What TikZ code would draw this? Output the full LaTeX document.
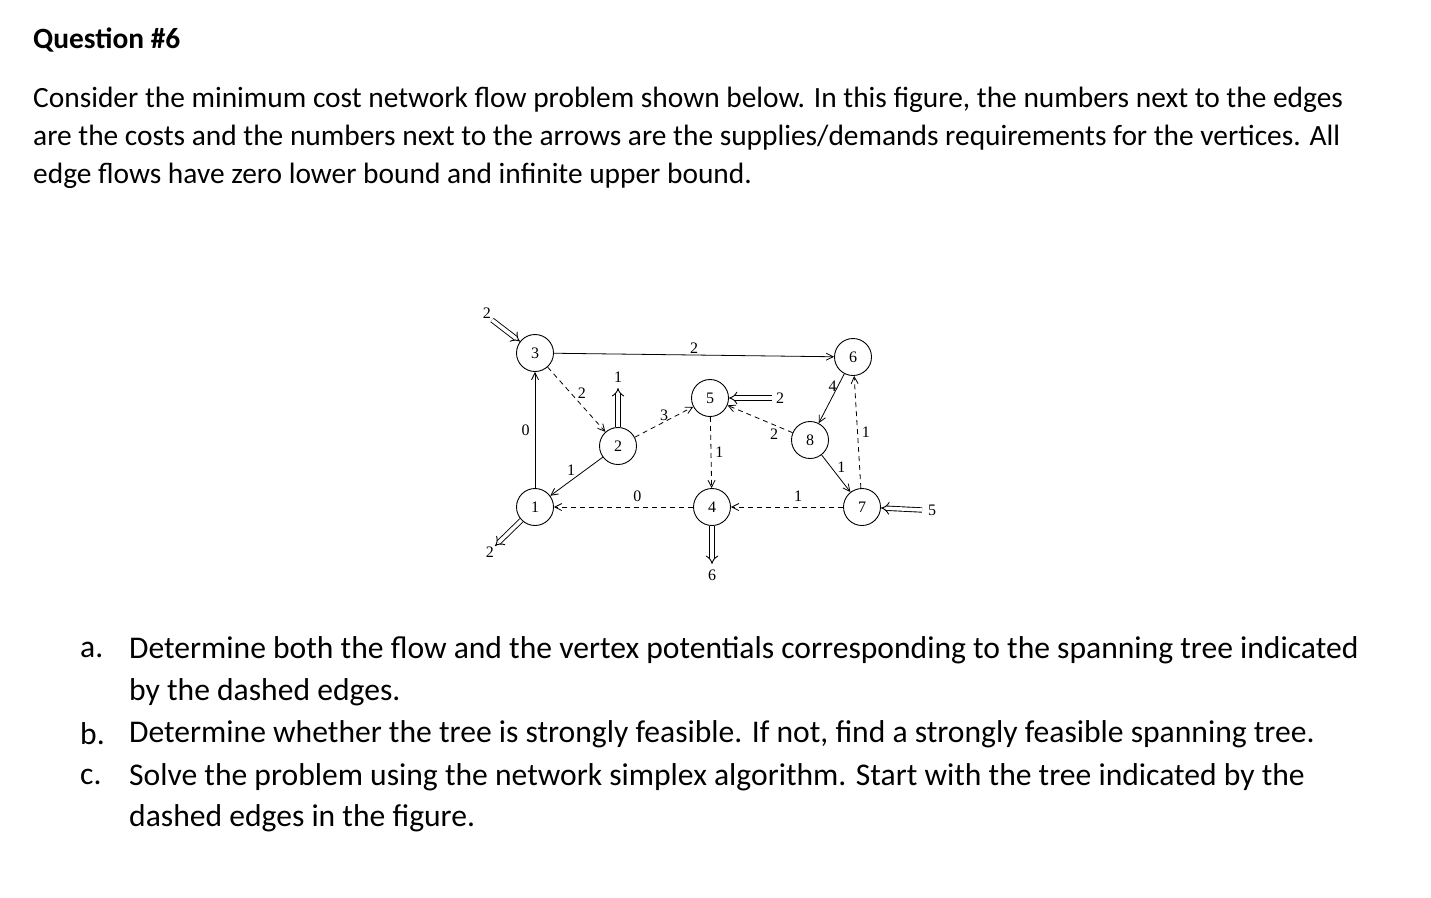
\documentclass[tikz,border=0pt]{standalone}
\usepackage{fontspec}
\setmainfont{Carlito}
\newfontfamily\tnr{Liberation Serif}
\usetikzlibrary{arrows.meta}
\begin{document}
\begin{tikzpicture}[x=1pt,y=-1pt,
  vtx/.style={circle,draw,line width=0.9pt,minimum size=37pt,inner sep=0pt,font=\tnr\fontsize{16}{16}\selectfont},
  lbl/.style={font=\tnr\fontsize{16}{16}\selectfont,inner sep=1pt},
  edg/.style={line width=0.8pt,-{Straight Barb[length=7pt,width=7pt]}},
  tree/.style={edg,dash pattern=on 5pt off 4pt},
  sup/.style={draw=black,double=white,double distance=3.5pt,line width=0.9pt,-{Implies}},
  body/.style={anchor=west,inner sep=0pt,font=\fontsize{29.4}{34}\selectfont},
  item/.style={anchor=west,inner sep=0pt,font=\fontsize{31.6}{36}\selectfont}]
\useasboundingbox (0,0) rectangle (1431,897);
\node[body,font=\bfseries\fontsize{29.4}{34}\selectfont] (t) at (33,40) {Question \#6};
\node[body] (l1) at (33,100) {Consider the minimum cost network flow problem shown below. In this figure, the numbers next to the edges};
\node[body] (l2) at (33,138) {are the costs and the numbers next to the arrows are the supplies/demands requirements for the vertices. All};
\node[body] (l3) at (33,176) {edge flows have zero lower bound and infinite upper bound.};
\node[item] (a1) at (80,650) {a.};
\node[item] (a2) at (129,650) {Determine both the flow and the vertex potentials corresponding to the spanning tree indicated};
\node[item] (a3) at (129,692) {by the dashed edges.};
\node[item] (b1) at (80,734) {b.};
\node[item] (b2) at (129,734) {Determine whether the tree is strongly feasible. If not, find a strongly feasible spanning tree.};
\node[item] (c1) at (80,777) {c.};
\node[item] (c2) at (129,777) {Solve the problem using the network simplex algorithm. Start with the tree indicated by the};
\node[item] (c3) at (129,818) {dashed edges in the figure.};
% vertices
\node[vtx] (n3) at (535,353) {3};
\node[vtx] (n6) at (853,357) {6};
\node[vtx] (n5) at (710,398) {5};
\node[vtx] (n2) at (618,446) {2};
\node[vtx] (n8) at (810,440) {8};
\node[vtx] (n1) at (535,507) {1};
\node[vtx] (n4) at (712,507) {4};
\node[vtx] (n7) at (862,507) {7};
% solid edges
\draw[edg] (n3) -- node[lbl,above] {2} (n6);
\draw[edg] (n1) -- node[lbl,left=4pt] {0} (n3);
\draw[edg] (n2) -- node[lbl,above left] {1} (n1);
\draw[edg] (n6) -- node[lbl,left,pos=0.25] {4} (n8);
\draw[edg] (n8) -- node[lbl,above right] {1} (n7);
% dashed edges
\draw[tree] (n3) -- node[lbl,above right] {2} (n2);
\draw[tree] (n2) -- node[lbl,above] {3} (n5);
\draw[tree] (n5) -- node[lbl,right=3pt] {1} (n4);
\draw[tree] (n8) -- node[lbl,below left,pos=0.2] {2} (n5);
\draw[tree] (n7) -- node[lbl,right=3pt] {1} (n6);
\draw[tree] (n4) -- node[lbl,above=4pt,pos=0.4] {0} (n1);
\draw[tree] (n7) -- node[lbl,above=4pt,pos=0.4] {1} (n4);
% supplies / demands
\coordinate (s3) at (492,320);
\coordinate (s2) at (618,388);
\coordinate (s5) at (772,398);
\coordinate (s1) at (495,546);
\coordinate (s4) at (712,564);
\coordinate (s7) at (922,510);
\draw[sup] (s3) -- (n3);
\draw[sup] (n2) -- (s2);
\draw[sup] (s5) -- (n5);
\draw[sup] (n1) -- (s1);
\draw[sup] (n4) -- (s4);
\draw[sup] (s7) -- (n7);
\node[lbl,anchor=south east] at (s3) {2};
\node[lbl,above=4pt] at (s2) {1};
\node[lbl,right=3pt] at (s5) {2};
\node[lbl,anchor=north east] at (s1) {2};
\node[lbl,below=5pt] at (s4) {6};
\node[lbl,right=5pt] at (s7) {5};
\end{tikzpicture}
\end{document}
